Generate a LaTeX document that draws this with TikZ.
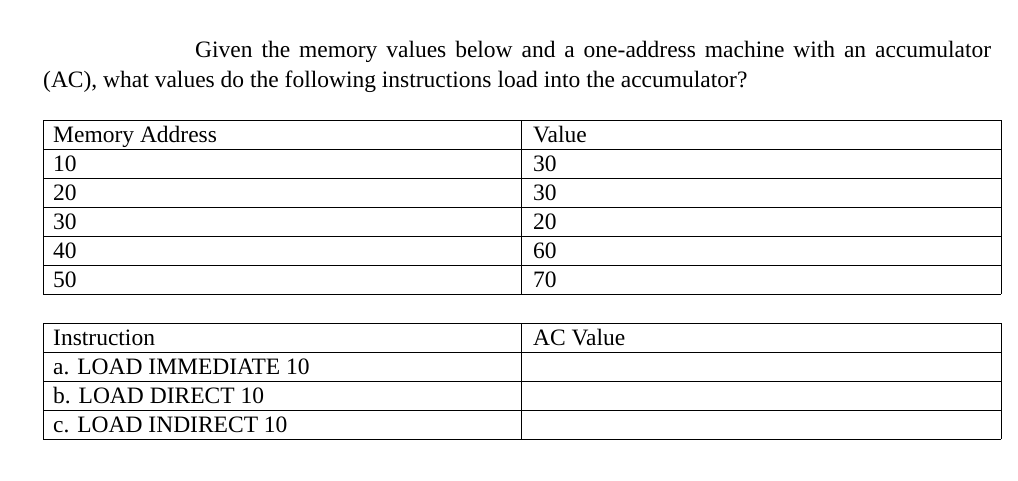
\documentclass[tikz,border=0pt]{standalone}
\usepackage{fontspec}
\setmainfont{Liberation Serif}
\begin{document}
\begin{tikzpicture}[x=1pt,y=-1pt,
 cell/.style={anchor=base west,inner sep=0pt,font=\fontsize{23.5}{28}\selectfont},
 grid/.style={line width=0.8pt}]
\useasboundingbox (0,0) rectangle (1018,480);
\node[cell] (l1) at (195,57) {\hbox to 796pt{Given the memory values below and a one-address machine with an accumulator}};
\node[cell] (l2) at (43,87) {(AC), what values do the following instructions load into the accumulator?};
% table 1
\foreach \y in {120,149,178,207,236,265,294} \draw[grid] (43,\y) -- (1001,\y);
\draw[grid] (43,120) -- (43,294) (521,120) -- (521,294) (1001,120) -- (1001,294);
\node[cell] (h1) at (53,142) {Memory Address};
\node[cell] (h2) at (533,142) {Value};
\foreach \a/\v [count=\i] in {10/30,20/30,30/20,40/60,50/70}{
 \node[cell] (a\i) at (53,142+29*\i) {\a};
 \node[cell] (v\i) at (533,142+29*\i) {\v};
}
% table 2
\foreach \y in {323,352,381,410,439} \draw[grid] (43,\y) -- (1001,\y);
\draw[grid] (43,323) -- (43,439) (521,323) -- (521,439) (1001,323) -- (1001,439);
\node[cell] (i0) at (53,345) {Instruction};
\node[cell] (c0) at (533,345) {AC Value};
\node[cell] (i1) at (53,374) {a. LOAD IMMEDIATE 10};
\node[cell] (i2) at (53,403) {b. LOAD DIRECT 10};
\node[cell] (i3) at (53,432) {c. LOAD INDIRECT 10};
\end{tikzpicture}
\end{document}
